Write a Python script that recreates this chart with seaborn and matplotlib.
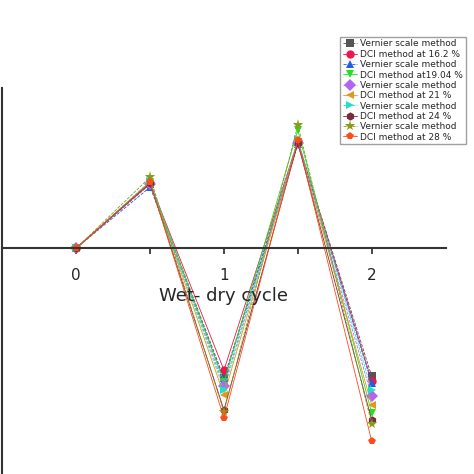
import numpy as np
import pandas as pd
import matplotlib
matplotlib.use("Agg")
import matplotlib.pyplot as plt
import seaborn as sns

cycles = [0, 0.5, 1, 1.5, 2]
labels = ["Vernier scale method", "DCI method at 16.2 %", "Vernier scale method",
          "DCI method at19.04 %", "Vernier scale method", "DCI method at 21 %",
          "Vernier scale method", "DCI method at 24 %", "Vernier scale method",
          "DCI method at 28 %"]
values = [
    [0, 6.4, -13.0, 10.6, -12.8],
    [0, 6.5, -12.2, 10.7, -13.3],
    [0, 6.1, -13.2, 10.4, -13.5],
    [0, 6.6, -13.4, 11.8, -16.5],
    [0, 6.4, -13.8, 10.5, -14.8],
    [0, 6.5, -14.7, 10.6, -15.7],
    [0, 6.7, -14.2, 10.9, -14.2],
    [0, 6.5, -16.2, 10.5, -17.2],
    [0, 7.1, -16.4, 12.3, -17.6],
    [0, 6.6, -17.0, 10.8, -19.3],
]
colors = ["#555555", "#f0154a", "#1f5fe0", "#22e022", "#b266f0", "#e09a1a",
          "#22e0c8", "#7a2a3a", "#8a9a1a", "#ff4a1a"]
markers = ["s", "o", "^", "v", "D", "<", ">", "h", "*", "p"]

sns.set_style("white")
fig = plt.figure(figsize=(4.74, 4.74), dpi=100)
ax = fig.add_axes([0.005, -0.055, 0.935, 0.869])

for i, (lab, vals) in enumerate(zip(labels, values)):
    df = pd.DataFrame({"cycle": cycles, "val": vals})
    sns.lineplot(data=df, x="cycle", y="val", ax=ax, color=colors[i], marker=markers[i],
                 markersize=8 if markers[i] == "*" else 6, markeredgewidth=0,
                 linewidth=0.6, linestyle="--" if i % 2 == 0 else "-", label=lab)

ax.set_xlim(-0.5, 2.5)
ax.set_ylim(-25.2, 16)
ax.spines["top"].set_visible(False)
ax.spines["right"].set_visible(False)
ax.spines["bottom"].set_position(("data", 0))
ax.spines["left"].set_linewidth(1.5)
ax.spines["bottom"].set_linewidth(1.5)
for s in ("left", "bottom"):
    ax.spines[s].set_color("#333333")
ax.set_yticks([])
ax.set_xticks([0, 1, 2])
ax.set_xticks([0.5, 1.5], minor=True)
ax.tick_params(axis="x", which="both", direction="out", length=4, width=1.2,
               bottom=True, labelsize=11, pad=10)
ax.set_xlabel("")
ax.set_ylabel("")
ax.text(1.0, -4.8, "Wet- dry cycle", ha="center", va="center", fontsize=13)

ax.legend(loc="upper left", bbox_to_anchor=(0.708, 0.932), bbox_transform=fig.transFigure,
          fontsize=6.5, frameon=True, fancybox=False, edgecolor="#888888",
          handlelength=1.6, labelspacing=0.15, borderpad=0.3, handletextpad=0.3)

fig.savefig("out.png", dpi=100)
